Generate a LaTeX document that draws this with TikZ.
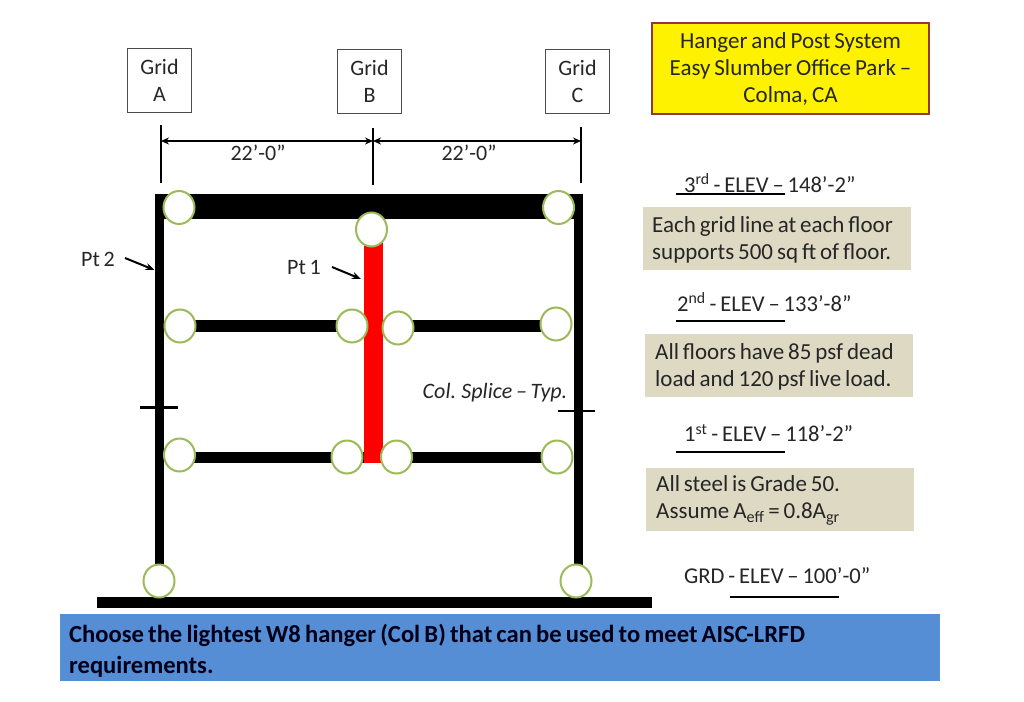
\documentclass[tikz,border=0pt]{standalone}
\usepackage{fontspec}
\setmainfont[WordSpace=0.75]{Carlito}
\usetikzlibrary{arrows.meta,shapes.geometric,positioning}
\definecolor{notetan}{HTML}{DDD9C3}
\definecolor{bannerblue}{HTML}{558ED5}
\definecolor{jointgreen}{HTML}{9BBB59}
\definecolor{titlered}{HTML}{953735}
\definecolor{inktext}{HTML}{262626}
\tikzset{
  txt/.style={text=inktext,font=\fontsize{22}{27}\selectfont,inner sep=0pt},
  gridbox/.style={txt,draw=black!70,line width=0.8pt,minimum width=64pt,minimum height=64pt,align=center},
  notebox/.style={txt,fill=notetan,minimum width=268pt,minimum height=63pt},
  notetext/.style={txt,anchor=west,align=flush left,font=\fontsize{23}{27}\selectfont},
  elev/.style={txt,anchor=west,font=\fontsize{22.6}{27}\selectfont},
  joint/.style={ellipse,draw=jointgreen,fill=white,line width=2pt,minimum width=31pt,minimum height=33pt,inner sep=0pt},
  beam/.style={line width=#1,black},
  dimline/.style={line width=1.8pt,{Stealth[length=8pt,width=7pt]}-{Stealth[length=8pt,width=7pt]}},
  tick/.style={line width=2.2pt},
  leader/.style={line width=2pt,-{Stealth[length=9pt,width=7pt]}}
}
\begin{document}
\begin{tikzpicture}[x=1pt,y=-1pt]
        \useasboundingbox (0,0) rectangle (1024,701);
        % grid heads
        \node[gridbox] (GA) at (159.5,80.5) {Grid\\A};
        \node[gridbox] (GB) at (369.5,81) {Grid\\B};
        \node[gridbox] (GC) at (577.5,81) {Grid\\C};
        % dimension lines
        \coordinate (DA1) at (161,125);
        \coordinate (DA2) at (161,183);
        \coordinate (DB1) at (373,128);
        \coordinate (DB2) at (373,185);
        \coordinate (DC1) at (581,127);
        \coordinate (DC2) at (581,183);
        \coordinate (DA) at (161,141);
        \coordinate (DB) at (373,141);
        \coordinate (DC) at (581,141);
        \draw [tick] (DA1) -- (DA2);
        \draw [tick] (DB1) -- (DB2);
        \draw [tick] (DC1) -- (DC2);
        \draw [dimline] (DA) -- (DB);
        \draw [dimline] (DB) -- (DC);
        \node[txt] (D1) at (258,153) {22’-0”};
        \node[txt] (D2) at (469,153) {22’-0”};
        % frame
        \coordinate (TL) at (155,206.5);
        \coordinate (TR) at (582.5,206.5);
        \coordinate (CA1) at (159.5,194);
        \coordinate (CA2) at (159.5,581);
        \coordinate (CC1) at (578,194);
        \coordinate (CC2) at (578,581);
        \coordinate (F2L) at (180,326);
        \coordinate (F2R) at (556,326);
        \coordinate (F1L) at (180,457.5);
        \coordinate (F1R) at (557,457.5);
        \coordinate (GL) at (97,602.5);
        \coordinate (GR) at (652,602.5);
        \coordinate (HT) at (373.5,229);
        \coordinate (HB) at (373.5,463);
        \draw [beam=9pt] (CA1) -- (CA2);
        \draw [beam=9pt] (CC1) -- (CC2);
        \draw [beam=25pt] (TL) -- (TR);
        \draw [beam=12pt] (F2L) -- (F2R);
        \draw [beam=11.5pt] (F1L) -- (F1R);
        \draw [beam=11pt] (GL) -- (GR);
        \draw [red,line width=18.5pt] (HT) -- (HB);
        % splices
        \coordinate (SA1) at (140,407.5);
        \coordinate (SA2) at (178,407.5);
        \coordinate (SC1) at (558,411);
        \coordinate (SC2) at (595,411);
        \draw [tick] (SA1) -- (SA2);
        \draw [tick] (SC1) -- (SC2);
        % joints
        \node[joint] (J1) at (179,207.5) {};
        \node[joint] (J2) at (558.5,207.5) {};
        \node[joint,minimum height=34pt] (J3) at (371.5,229.5) {};
        \node[joint] (J4) at (180,326) {};
        \node[joint] (J5) at (352,326) {};
        \node[joint] (J6) at (398,328) {};
        \node[joint] (J7) at (556,324) {};
        \node[joint] (J8) at (179.5,455) {};
        \node[joint] (J9) at (347,457) {};
        \node[joint] (J10) at (396.5,457) {};
        \node[joint] (J11) at (557,457) {};
        \node[joint] (J12) at (159,581) {};
        \node[joint] (J13) at (576,581) {};
        % callouts
        \node[txt] (P2) at (98,259) {Pt 2};
        \node[txt] (P1) at (304,267) {Pt 1};
        \coordinate (P2a) at (125,258);
        \coordinate (P2b) at (154.5,270);
        \coordinate (P1a) at (332,267);
        \coordinate (P1b) at (361,279);
        \draw [leader] (P2a) -- (P2b);
        \draw [leader] (P1a) -- (P1b);
        \node[txt] (SP) at (495,392.5) {\itshape Col. Splice – Typ.};
        % title
        \node[txt,font=\fontsize{23}{27}\selectfont,draw=titlered,fill=yellow,line width=2.4pt,minimum width=277pt,minimum height=91pt,align=center] (TT) at (790.5,68.5) {Hanger and Post System\\Easy Slumber Office Park –\\Colma, CA};
        % levels
        \node[elev] (L3) at (684,183) {3\textsuperscript{rd} - ELEV – 148’-2”};
        \node[elev] (L2) at (677,302) {2\textsuperscript{nd} - ELEV – 133’-8”};
        \node[elev] (L1) at (684,433) {1\textsuperscript{st} - ELEV – 118’-2”};
        \node[elev] (L0) at (684,576) {GRD - ELEV – 100’-0”};
        \coordinate (U3a) at (676,194);
        \coordinate (U3b) at (785,194);
        \coordinate (U2a) at (676,321);
        \coordinate (U2b) at (785,321);
        \coordinate (U1a) at (676,452);
        \coordinate (U1b) at (785,452);
        \coordinate (U0a) at (730,597);
        \coordinate (U0b) at (839,597);
        \draw [tick] (U3a) -- (U3b);
        \draw [tick] (U2a) -- (U2b);
        \draw [tick] (U1a) -- (U1b);
        \draw [tick] (U0a) -- (U0b);
        % notes
        \node[notebox] (N1) at (777,238.5) {};
        \node[notebox] (N2) at (779,365.5) {};
        \node[notebox] (N3) at (780,499.5) {};
        \node[notetext] (T1) at (652,240) {Each grid line at each floor\\supports 500 sq ft of floor.};
        \node[notetext] (T2) at (655,366.5) {All floors have 85 psf dead\\load and 120 psf live load.};
        \node[notetext] (T3) at (656,500.5) {All steel is Grade 50.\\Assume A\textsubscript{eff} = 0.8A\textsubscript{gr}};
        % banner
        \node[fill=bannerblue,minimum width=880pt,minimum height=67pt] (BN) at (500,647.5) {};
        \node[anchor=west,inner sep=0pt,align=flush left,text=black!90!blue,font=\fontsize{24.6}{31}\selectfont\bfseries] (BT) at (69,650.5) {Choose the lightest W8 hanger (Col B) that can be used to meet AISC-LRFD\\requirements.};
      \end{tikzpicture}
\end{document}
